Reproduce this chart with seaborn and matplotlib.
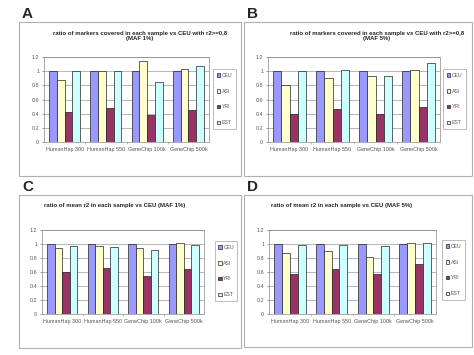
import numpy as np
import pandas as pd
import matplotlib
matplotlib.use('Agg')
import matplotlib.pyplot as plt
import seaborn as sns
from matplotlib.patches import Rectangle

# chips and populations
chips = ['HumanHap 300', 'HumanHap 550', 'GeneChip 100k', 'GeneChip 500k']
pops = ['CEU', 'ASI', 'YRI', 'EST']

# A: markers covered, MAF 1%
a_ceu = [1.0, 1.0, 1.0, 1.0]
a_asi = [0.87, 1.0, 1.15, 1.03]
a_yri = [0.42, 0.48, 0.38, 0.45]
a_est = [1.0, 1.0, 0.85, 1.07]

# B: markers covered, MAF 5%
b_ceu = [1.0, 1.0, 1.0, 1.0]
b_asi = [0.80, 0.90, 0.93, 1.02]
b_yri = [0.40, 0.46, 0.40, 0.50]
b_est = [1.0, 1.01, 0.93, 1.11]

# C: mean r2, MAF 1%
c_ceu = [1.0, 1.0, 1.0, 1.0]
c_asi = [0.94, 0.97, 0.94, 1.01]
c_yri = [0.60, 0.66, 0.54, 0.65]
c_est = [0.97, 0.96, 0.91, 0.98]

# D: mean r2, MAF 5%
d_ceu = [1.0, 1.0, 1.0, 1.0]
d_asi = [0.87, 0.90, 0.81, 1.01]
d_yri = [0.57, 0.64, 0.57, 0.71]
d_est = [0.99, 0.99, 0.97, 1.01]

titles = ['ratio of markers covered in each sample vs CEU with r2>=0,8\n(MAF 1%)',
          'ratio of markers covered in each sample vs CEU with r2>=0,8\n(MAF 5%)',
          'ratio of mean r2 in each sample vs CEU (MAF 1%)',
          'ratio of mean r2 in each sample vs CEU (MAF 5%)']
letters = ['A', 'B', 'C', 'D']
pal = {'CEU': '#9999FF', 'ASI': '#FFFFCC', 'YRI': '#993366', 'EST': '#CCFFFF'}

sns.set_style('white')
plt.rcParams['font.family'] = ['Liberation Sans', 'DejaVu Sans']

W, H = 474.0, 355.0
fig = plt.figure(figsize=(4.74, 3.55), dpi=100)

def fx(px):
    return px / W

def fy(py):
    return 1 - py / H

# pixel layout: box, axes, title center, legend center
layout = [
    dict(box=(19, 22, 241, 176), ax=(44, 57, 209, 142), title=(140, 36), leg=(224.5, 99)),
    dict(box=(244, 22, 472, 176), ax=(268, 57, 440, 142), title=(377, 36), leg=(454.5, 99)),
    dict(box=(19, 195, 241, 348), ax=(42, 230, 204, 314), title=(115, 206), leg=(226, 271)),
    dict(box=(244, 195, 472, 347), ax=(269, 230, 436, 314), title=(342, 206), leg=(453.5, 270)),
]
data = [(a_ceu, a_asi, a_yri, a_est), (b_ceu, b_asi, b_yri, b_est),
        (c_ceu, c_asi, c_yri, c_est), (d_ceu, d_asi, d_yri, d_est)]

for i in range(4):
    lay = layout[i]
    x0, y0, x1, y1 = lay['box']
    fig.patches.append(Rectangle((fx(x0), fy(y1)), fx(x1 - x0), (y1 - y0) / H,
                                 transform=fig.transFigure, fill=False,
                                 edgecolor='#b0b0b0', lw=0.8))
    fig.text(fx(x0 + 3), fy(y0 - 8), letters[i], fontsize=11, fontweight='bold',
             ha='left', va='center')
    fig.text(fx(lay['title'][0]), fy(lay['title'][1]), titles[i], fontsize=4.3,
             fontweight='bold', ha='center', va='center', linespacing=1.2)

    rows = []
    for p, vals in zip(pops, data[i]):
        for c, v in zip(chips, vals):
            rows.append({'chip': c, 'pop': p, 'ratio': v})
    df = pd.DataFrame(rows)

    ax0, ay0, ax1, ay1 = lay['ax']
    ax = fig.add_axes([fx(ax0), fy(ay1), fx(ax1 - ax0), (ay1 - ay0) / H])
    sns.barplot(data=df, x='chip', y='ratio', hue='pop', order=chips, hue_order=pops,
                palette=pal, saturation=1, width=0.75, edgecolor='#222222',
                linewidth=0.5, ax=ax)
    ax.set_ylim(0, 1.2)
    ax.set_xlim(-0.5, 3.5)
    ax.set_yticks(np.arange(0, 1.21, 0.2))
    ax.set_yticklabels(['0', '0.2', '0.4', '0.6', '0.8', '1', '1.2'])
    ax.set_xticks([0.5, 1.5, 2.5], minor=True)
    ax.yaxis.grid(True, color='#9a9a9a', lw=0.5)
    ax.set_axisbelow(True)
    ax.set_xlabel('')
    ax.set_ylabel('')
    for s in ax.spines.values():
        s.set_color('#8a8a8a')
        s.set_linewidth(0.5)
    ax.tick_params(axis='both', labelsize=3.9, colors='#555555', length=1.5, width=0.4,
                   pad=2)
    ax.tick_params(axis='y', left=True)
    ax.tick_params(axis='x', which='major', bottom=False)
    ax.tick_params(axis='x', which='minor', bottom=True, length=1.5, width=0.4,
                   color='#8a8a8a')

    handles, labels = ax.get_legend_handles_labels()
    ax.legend(handles, labels, loc='center', bbox_to_anchor=(fx(lay['leg'][0]), fy(lay['leg'][1])),
              bbox_transform=fig.transFigure, fontsize=3.7, frameon=True, fancybox=False,
              edgecolor='#8a8a8a', handlelength=0.7, handleheight=0.7, labelspacing=2.1,
              borderpad=0.7, handletextpad=0.3, borderaxespad=0, labelcolor='#555555')
    ax.get_legend().get_frame().set_linewidth(0.5)

fig.savefig('out.png', dpi=100)
